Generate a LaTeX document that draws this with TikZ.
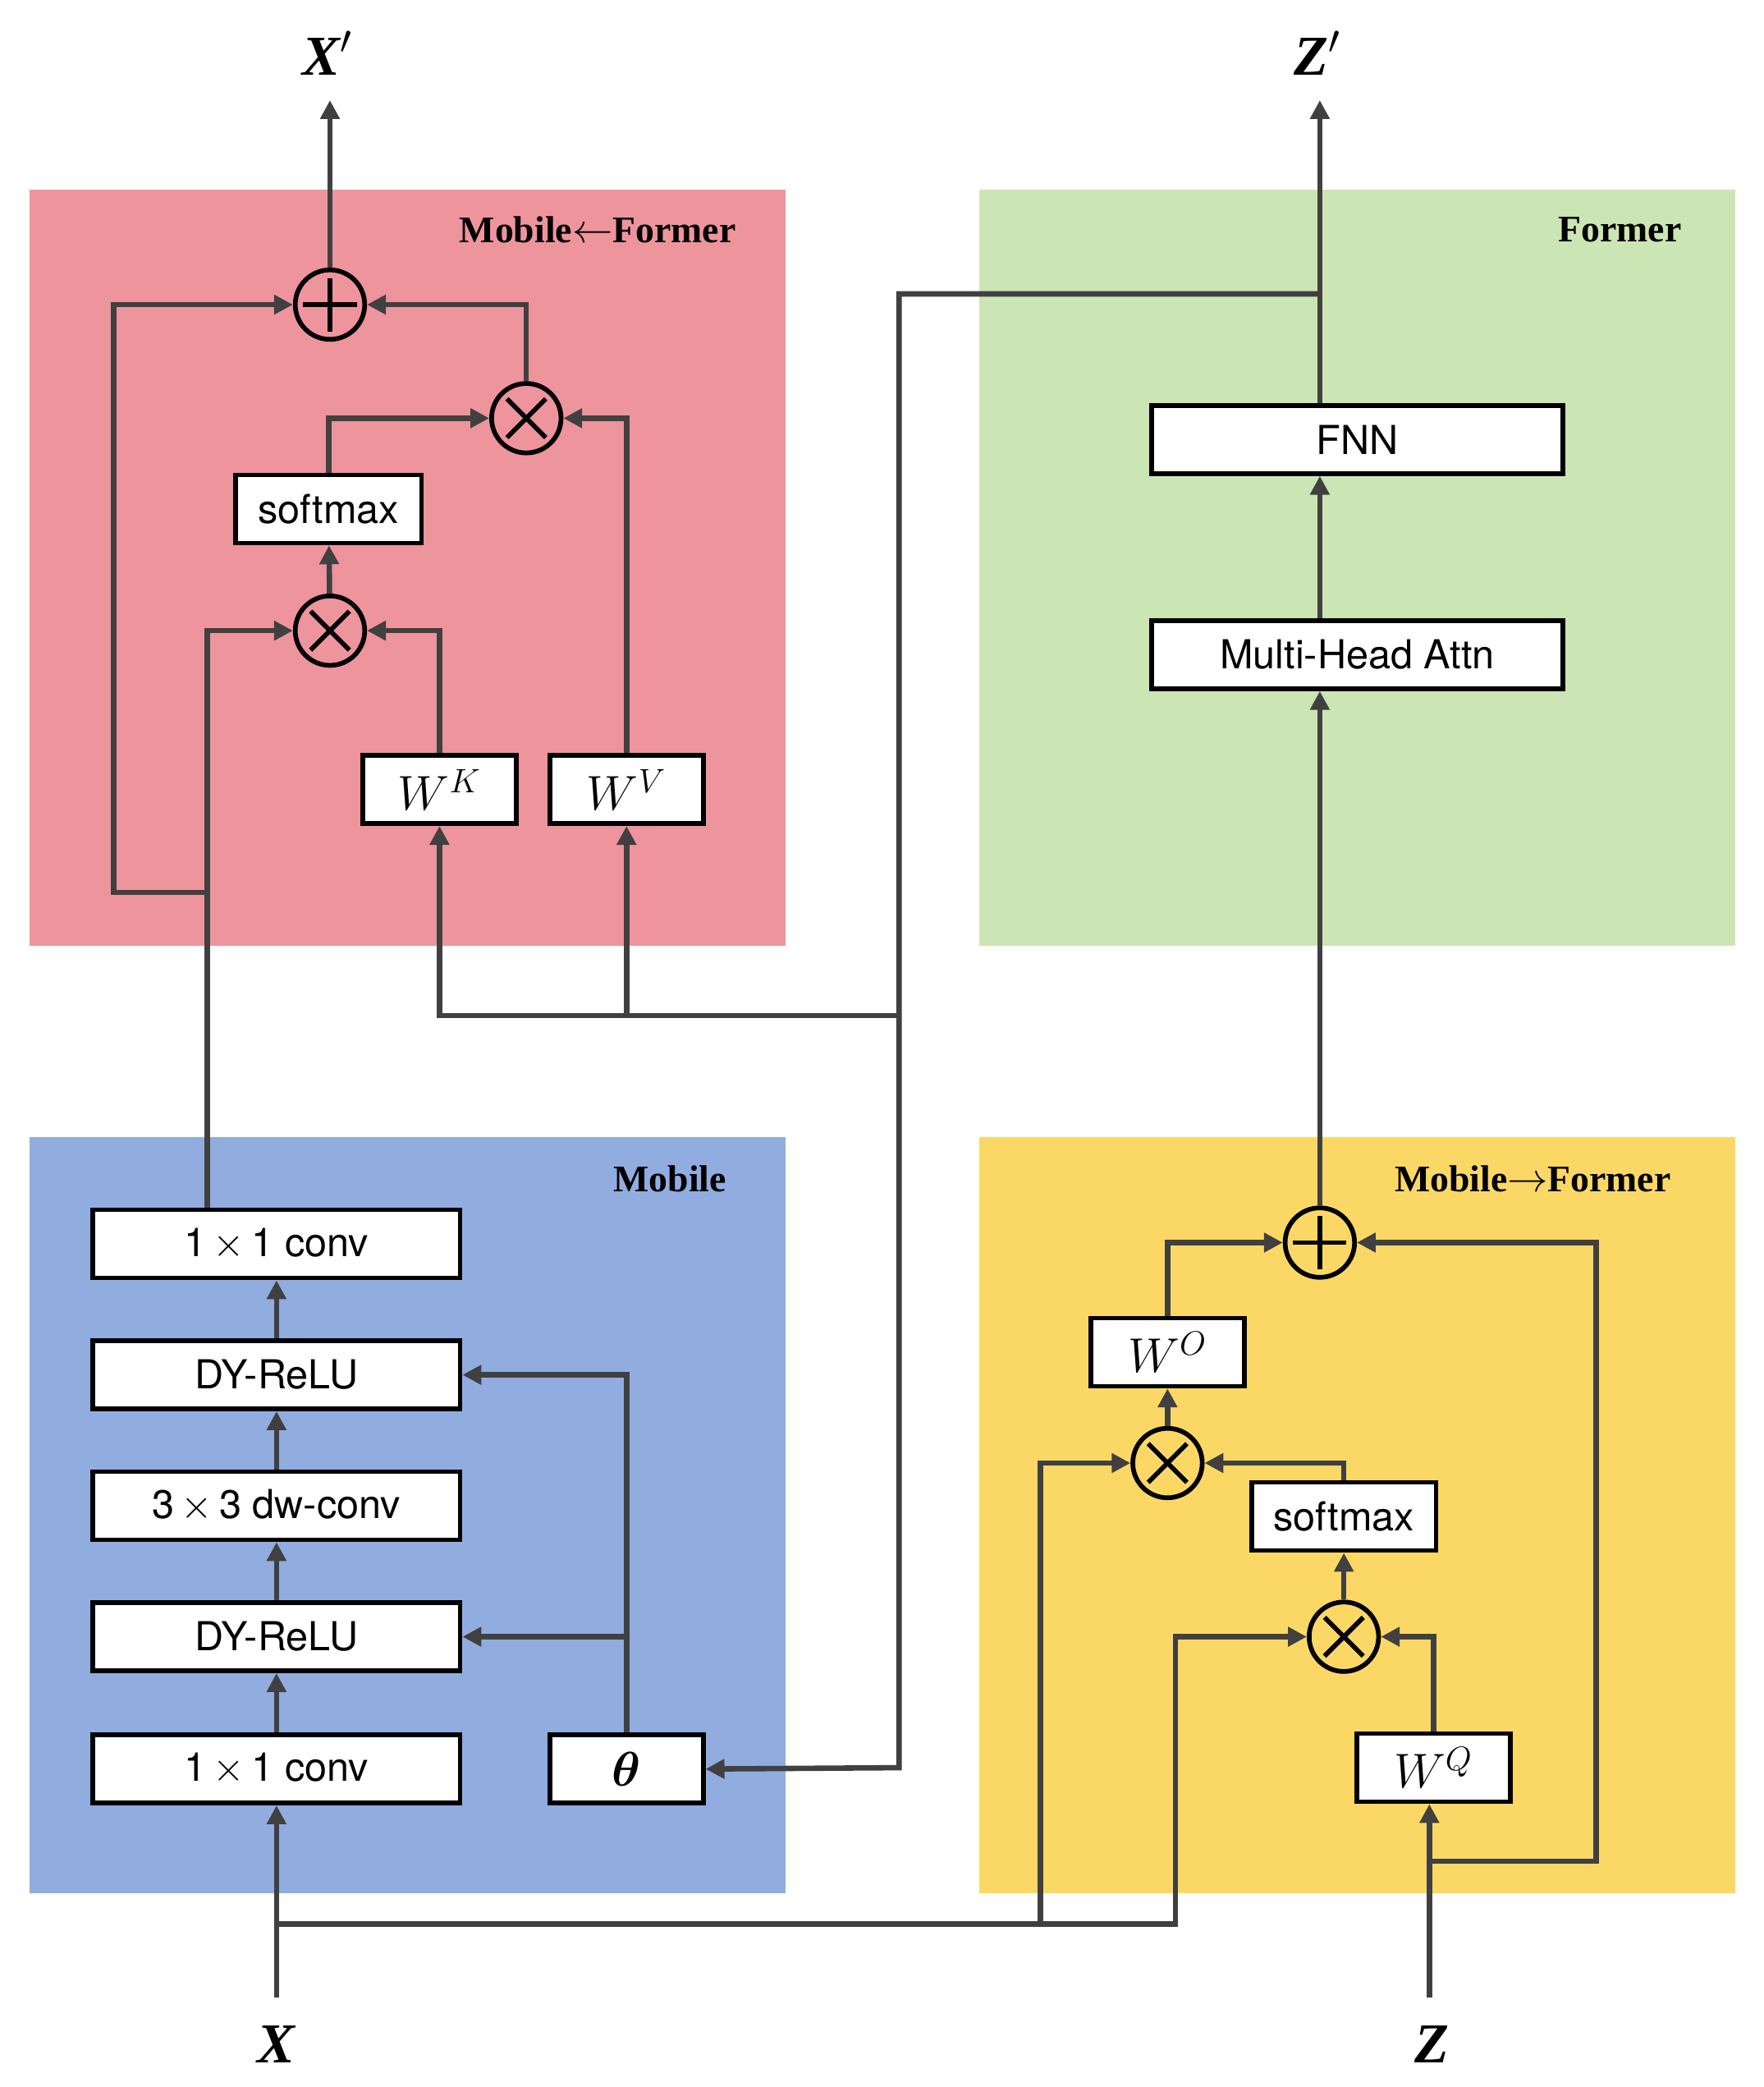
\documentclass[tikz,border=0pt]{standalone}
\usepackage{amsmath}
\usepackage{bm}
\usepackage{fontspec}
\setmainfont{Liberation Serif}
\newfontfamily\hel{TeX Gyre Heros}
\usetikzlibrary{arrows.meta}
\definecolor{lc}{HTML}{404040}
\definecolor{cred}{HTML}{EE949C}
\definecolor{cgreen}{HTML}{CBE5B4}
\definecolor{cblue}{HTML}{91ACDF}
\definecolor{cyel}{HTML}{FBD865}
\begin{document}
\begin{tikzpicture}[x=0.02cm,y=-0.02cm,
  ln/.style={draw=lc,line width=2.3pt},
  arr/.style={ln,-{Triangle[length=8pt,width=8pt]}},
  box/.style={draw=black,line width=2pt,fill=white,minimum height=1.02cm,inner sep=0pt,font=\hel\fontsize{17}{17}\selectfont},
  wb/.style={box,minimum width=2.3cm,font=\fontsize{20}{20}\selectfont},
  lb/.style={font=\bfseries\fontsize{16}{16}\selectfont,anchor=east},
  circ/.style={circle,draw=black,line width=2pt,minimum size=1.04cm,inner sep=0pt},
  pl/.style={circ,path picture={\draw[black,line width=2pt] ([xshift=-0.4cm]path picture bounding box.center)--([xshift=0.4cm]path picture bounding box.center) ([yshift=-0.4cm]path picture bounding box.center)--([yshift=0.4cm]path picture bounding box.center);}},
  tm/.style={circ,path picture={\draw[black,line width=2pt] ([shift={(-0.29cm,-0.29cm)}]path picture bounding box.center)--([shift={(0.29cm,0.29cm)}]path picture bounding box.center) ([shift={(-0.29cm,0.29cm)}]path picture bounding box.center)--([shift={(0.29cm,-0.29cm)}]path picture bounding box.center);}},
  io/.style={font=\bfseries\itshape\fontsize{24}{24}\selectfont}
]
\useasboundingbox (0,0) rectangle (1320,1562);
\fill[cred] (22,142) rectangle (588,708);
\fill[cgreen] (733,142) rectangle (1299,708);
\fill[cblue] (22,851) rectangle (588,1417);
\fill[cyel] (733,851) rectangle (1299,1417);
\node[lb] (l1) at (557,172) {Mobile$\leftarrow$Former};
\node[lb] (l2) at (1265,172) {Former};
\node[lb] (l3) at (550,882) {Mobile};
\node[lb] (l4) at (1257,882) {Mobile$\rightarrow$Former};
% red
\node[pl] (p1) at (247,228) {};
\node[tm] (t2) at (394,313) {};
\node[box,minimum width=2.78cm] (sm1) at (246,381) {softmax};
\node[tm] (t1) at (247,472) {};
\node[wb] (wk) at (329,591) {$W^K$};
\node[wb] (wv) at (469,591) {$W^V$};
\node[io] (xo) at (245,40) {X$^{\prime}$};
\coordinate (xa) at (247,75);
% green
\node[box,minimum width=6.16cm] (fnn) at (1016,329) {FNN};
\node[box,minimum width=6.16cm] (mha) at (1016,490) {Multi-Head Attn};
\node[io] (zo) at (986,40) {Z$^{\prime}$};
\coordinate (za) at (988,75);
% blue
\node[box,minimum width=5.5cm] (b5) at (207,931) {1\,$\times$\,1 conv};
\node[box,minimum width=5.5cm] (b4) at (207,1029) {DY-ReLU};
\node[box,minimum width=5.5cm] (b3) at (207,1127) {3\,$\times$\,3 dw-conv};
\node[box,minimum width=5.5cm] (b2) at (207,1225) {DY-ReLU};
\node[box,minimum width=5.5cm] (b1) at (207,1324) {1\,$\times$\,1 conv};
\node[wb] (th) at (469,1324) {$\bm{\theta}$};
\node[io] (xi) at (207,1530) {X};
\node[io] (zi) at (1072,1530) {Z};
% yellow
\node[pl] (p2) at (988,930) {};
\node[wb] (wo) at (874,1012) {$W^O$};
\node[tm] (t3) at (874,1095) {};
\node[box,minimum width=2.76cm] (sm2) at (1006,1135) {softmax};
\node[tm] (t4) at (1006,1225) {};
\node[wb] (wq) at (1073,1323) {$W^Q$};
% coordinates
\coordinate (xs) at (207,1495);
\coordinate (zs) at (1070,1495);
\coordinate (j1) at (155,668);
\coordinate (k1) at (85,668);
\coordinate (j2) at (673,760);
\coordinate (j3) at (673,220);
\coordinate (j4) at (988,220);
\coordinate (j5) at (673,1323);
\coordinate (j6) at (207,1440);
\coordinate (j7) at (880,1440);
\coordinate (j8) at (779,1440);
\coordinate (j9) at (1070,1393);
\coordinate (j10) at (1195,1393);
% red connections
\draw[arr] (p1) -- (xa);
\draw[arr] (t2.north) |- (p1.east);
\draw[arr] (sm1.north) |- (t2.west);
\draw[arr] (t1) -- (sm1);
\draw[arr] (wk.north) |- (t1.east);
\draw[arr] (wv.north) |- (t2.east);
\draw[arr] (b5.north -| j1) |- (t1.west);
\draw[arr] (j1) -- (k1) |- (p1.west);
\draw[arr] (j2) -| (wk.south);
\draw[arr] (wv.south |- j2) -- (wv.south);
\draw[arr] (j4) -- (j3) -- (j5) -- (th.east);
% green
\draw[arr] (fnn.north -| za) -- (za);
\draw[arr] (mha.north -| za) -- (fnn.south -| za);
\draw[arr] (p2) -- (mha.south -| p2);
% blue
\draw[arr] (b4) -- (b5);
\draw[arr] (b3) -- (b4);
\draw[arr] (b2) -- (b3);
\draw[arr] (b1) -- (b2);
\draw[arr] (th.north) |- (b4.east);
\draw[arr] (th.north |- b2.east) -- (b2.east);
\draw[arr] (xs) -- (b1.south);
\draw[arr] (j6) -- (j7) |- (t4.west);
\draw[arr] (j8) |- (t3.west);
% yellow
\draw[arr] (wo.north) |- (p2.west);
\draw[arr] (t3) -- (wo);
\draw[arr] (sm2.north) |- (t3.east);
\draw[arr] (t4) -- (sm2);
\draw[arr] (wq.north) |- (t4.east);
\draw[arr] (zs) -- (wq.south -| zs);
\draw[arr] (j9) -- (j10) |- (p2.east);
\end{tikzpicture}
\end{document}
